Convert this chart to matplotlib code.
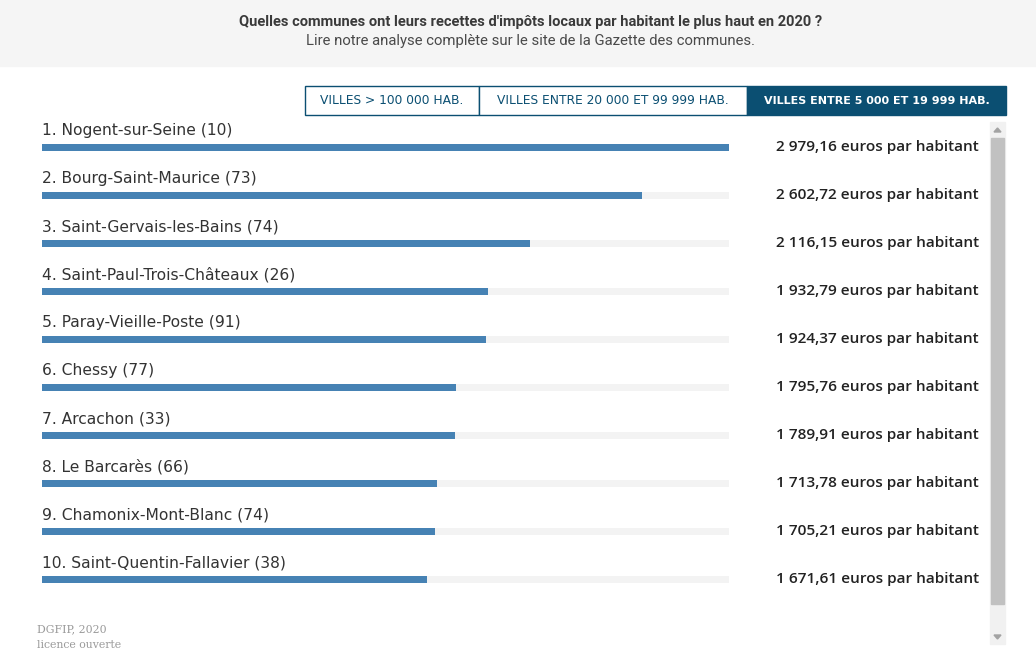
import numpy as np
import matplotlib
matplotlib.use("Agg")
import matplotlib.pyplot as plt
from matplotlib.patches import Rectangle, Polygon
from matplotlib.transforms import blended_transform_factory

# data
communes = ["Nogent-sur-Seine (10)", "Bourg-Saint-Maurice (73)", "Saint-Gervais-les-Bains (74)",
            "Saint-Paul-Trois-Châteaux (26)", "Paray-Vieille-Poste (91)", "Chessy (77)",
            "Arcachon (33)", "Le Barcarès (66)", "Chamonix-Mont-Blanc (74)",
            "Saint-Quentin-Fallavier (38)"]
values = [2979.16, 2602.72, 2116.15, 1932.79, 1924.37, 1795.76, 1789.91, 1713.78, 1705.21, 1671.61]
tabs = ["VILLES > 100 000 HAB.", "VILLES ENTRE 20 000 ET 99 999 HAB.", "VILLES ENTRE 5 000 ET 19 999 HAB."]
title = "Quelles communes ont leurs recettes d'impôts locaux par habitant le plus haut en 2020 ?"
subtitle = "Lire notre analyse complète sur le site de la Gazette des communes."
source = ["DGFIP, 2020", "licence ouverte"]

W, H = 1036, 666
BAR = "#4682b4"
DARK = "#0b4f72"
WIDE = ["DejaVu Sans"]
SANS = ["Open Sans", "DejaVu Sans"]


def fmt(v):
    s = "{:,.2f}".format(v).replace(",", " ").replace(".", ",")
    return s + " euros par habitant"


fig = plt.figure(figsize=(W / 100, H / 100), dpi=100)
fig.patch.set_facecolor("white")

# pixel canvas for decorations
bg = fig.add_axes([0, 0, 1, 1])
bg.set_xlim(0, W)
bg.set_ylim(H, 0)
bg.axis("off")

bg.add_patch(Rectangle((0, 0), W, 66, color="#f5f5f5", zorder=0))
bg.text(W / 2 + 13, 22, title, ha="center", va="center", fontsize=10.5,
        fontweight="bold", family=["Roboto", "DejaVu Sans"], color="#3a3a3a")
bg.text(W / 2 + 13, 41, subtitle, ha="center", va="center", fontsize=10.7,
        fontweight="normal", family=["Roboto", "DejaVu Sans"], color="#4a4a4a")

# tab buttons
tab_x = [305, 479, 747, 1006]
for i, lab in enumerate(tabs):
    x0, x1 = tab_x[i], tab_x[i + 1]
    active = i == 2
    bg.add_patch(Rectangle((x0, 86), x1 - x0, 29, facecolor=DARK if active else "white",
                           edgecolor=DARK, lw=1, zorder=2))
    bg.text((x0 + x1) / 2, 101, lab, ha="center", va="center",
            fontsize=8.05 if active else 8.8,
            fontweight="bold" if active else "normal", family=WIDE,
            color="white" if active else DARK, zorder=3)

# scrollbar
bg.add_patch(Rectangle((990, 122), 15, 522, color="#f1f1f1", zorder=1))
bg.add_patch(Rectangle((991, 138), 13, 466, color="#c1c1c1", zorder=2))
bg.add_patch(Polygon([[994, 132], [1001, 132], [997.5, 128]], closed=True, color="#a3a3a3", zorder=2))
bg.add_patch(Polygon([[994, 635], [1001, 635], [997.5, 639]], closed=True, color="#a3a3a3", zorder=2))

# footer
bg.text(37, 629, source[0], ha="left", va="center", fontsize=7.8,
        family=["DejaVu Serif"], color="#9a9a9a")
bg.text(37, 645, source[1], ha="left", va="center", fontsize=7.8,
        family=["DejaVu Serif"], color="#9a9a9a")

# bars
top_px, row_px = 123, 48
n = len(values)
ax = fig.add_axes([42 / W, 1 - (top_px + row_px * n) / H, 687 / W, row_px * n / H])
ax.set_xlim(0, max(values))
ax.set_ylim(n, 0)
ax.axis("off")

y = np.arange(n) + 0.5
ax.barh(y, [max(values)] * n, height=7 / row_px, left=0, color="#f3f3f3", zorder=1)
ax.barh(y, values, height=7 / row_px, left=0, color=BAR, zorder=2)

tr = blended_transform_factory(bg.transData, ax.transData)
for i, (c, v) in enumerate(zip(communes, values)):
    ax.text(0, i + 7.5 / row_px, "{}. {}".format(i + 1, c), ha="left", va="center",
            fontsize=11.2, family=WIDE, color="#333333")
    ax.text(979, i + 0.5, fmt(v), transform=tr, ha="right", va="center",
            fontsize=11.1, fontweight="semibold", family=SANS, color="#222222")

fig.savefig("out.png", dpi=100, facecolor=fig.get_facecolor())
